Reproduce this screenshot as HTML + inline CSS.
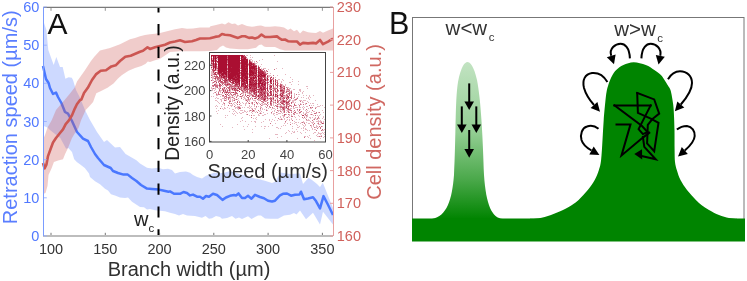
<!DOCTYPE html>
<html><head><meta charset="utf-8"><style>
html,body{margin:0;padding:0;background:#fff;overflow:hidden}
svg{display:block}
text{font-family:"Liberation Sans",Arial,Helvetica,sans-serif}
.t14{font-size:14.5px}
.t12{font-size:13px}
.lab{font-size:20px}
.wl{font-size:20.5px}
.big{font-size:30px}
.sub{font-size:11.5px}
</style></head><body>
<svg width="747" height="281" viewBox="0 0 747 281">
<rect width="747" height="281" fill="#fff"/>
<polygon points="43.0,20.0 46.4,30.0 47.8,45.0 48.3,50.0 53.7,64.9 56.3,56.9 60.0,67.1 62.7,67.1 65.4,78.8 68.6,77.2 71.8,77.7 73.0,80.0 76.0,90.0 80.0,97.8 85.0,110.0 90.0,120.0 97.0,132.0 104.0,142.0 107.0,140.0 115.0,147.5 120.0,147.0 125.6,154.0 136.4,160.3 140.0,163.6 147.0,167.8 152.0,168.5 158.0,167.8 163.0,169.3 168.0,168.8 172.0,170.0 175.0,173.5 180.0,172.1 186.0,171.4 190.0,172.8 193.0,175.0 197.0,177.1 202.0,178.5 206.0,175.7 210.0,174.2 214.0,172.8 220.0,173.3 225.0,172.4 230.0,171.0 235.0,172.4 240.0,174.2 245.0,175.2 250.0,177.1 255.0,178.5 260.0,179.4 265.0,180.8 268.0,181.7 272.0,183.1 275.0,181.7 280.6,172.5 290.0,174.0 300.0,173.6 303.0,184.0 308.5,177.8 312.0,180.0 317.0,184.0 320.0,187.0 322.8,182.8 333.0,208.0 333.0,224.6 323.0,211.8 320.0,224.6 313.0,212.8 306.0,219.3 300.0,210.4 296.5,214.6 294.0,213.0 290.0,214.8 284.0,215.5 278.0,218.7 270.0,218.7 265.0,218.4 261.0,215.5 258.0,215.4 251.5,218.9 248.0,216.2 242.0,218.9 239.0,217.6 235.5,218.7 232.0,215.9 227.0,218.1 222.0,218.7 220.0,217.1 216.0,216.0 212.0,218.2 209.0,218.7 205.5,216.0 202.0,217.7 195.0,216.0 187.0,215.5 183.0,213.9 179.0,215.5 175.0,213.9 170.0,212.8 165.0,211.2 160.0,210.7 155.0,210.2 150.0,209.1 147.0,209.6 144.0,207.2 140.0,207.0 137.0,204.9 132.0,201.8 128.0,197.4 125.0,198.0 120.0,197.4 115.0,195.5 111.0,194.3 108.0,190.6 105.0,188.7 100.0,184.3 95.0,181.2 90.0,176.9 89.0,173.6 84.8,168.0 80.6,164.7 76.8,162.0 74.2,159.3 72.0,151.9 68.3,148.1 66.1,148.7 60.3,138.0 55.0,134.0 50.0,130.0 47.5,127.5 43.0,125.7" fill="#4a78ff" fill-opacity="0.28"/>
<polyline points="43.0,66.0 46.0,79.0 48.6,83.0 50.0,88.0 53.0,94.0 56.0,92.5 58.0,97.0 61.4,103.0 65.0,112.0 68.0,113.7 72.0,121.0 77.0,132.0 83.0,138.6 88.0,141.0 91.0,147.0 95.0,154.0 98.0,158.0 104.0,165.0 110.7,168.0 113.0,171.0 118.0,173.0 123.5,174.6 127.8,174.6 132.0,178.0 136.4,181.0 141.0,185.0 147.0,188.6 152.0,189.0 159.0,189.6 163.0,190.5 168.5,191.8 170.0,191.4 174.0,193.8 180.0,193.8 183.5,192.0 187.0,193.0 190.0,195.4 193.0,194.6 197.0,196.7 200.0,196.8 203.0,198.7 206.0,196.0 209.0,196.7 213.0,193.8 217.0,195.0 222.5,199.9 226.0,197.5 230.0,195.8 234.0,195.0 236.0,195.4 238.5,193.4 242.0,197.9 245.0,197.9 248.0,195.8 251.5,198.7 255.0,194.8 260.0,197.0 264.0,198.3 268.0,200.7 272.0,201.5 275.0,200.7 280.0,195.4 283.0,193.8 287.0,193.5 291.0,195.7 295.0,194.7 299.5,194.5 301.0,191.7 304.0,199.3 308.0,198.5 313.0,197.3 316.0,201.1 320.0,208.4 323.5,196.1 328.0,204.8 333.0,215.0" fill="none" stroke="#4a78ff" stroke-width="2.5" stroke-linejoin="round"/>
<polygon points="43.0,139.5 45.0,135.0 47.5,127.5 49.0,125.0 51.8,120.0 56.0,110.0 64.6,100.0 70.0,93.5 74.5,87.8 77.0,81.4 84.6,70.7 91.0,61.0 94.3,56.8 100.0,50.5 110.0,48.0 120.0,44.3 125.0,41.8 130.0,39.3 135.0,38.1 140.0,36.2 145.0,35.0 150.0,34.3 155.0,33.7 160.0,33.1 165.0,31.8 170.0,30.6 175.0,29.3 178.0,28.7 182.0,28.1 187.0,28.7 193.0,28.6 200.0,27.6 209.5,27.4 210.5,26.2 215.0,25.2 222.0,23.6 225.0,24.4 228.5,22.3 232.0,24.0 235.0,23.6 238.0,25.6 242.0,24.0 247.0,26.0 252.0,26.8 258.0,25.8 261.0,25.4 265.0,26.7 270.0,26.7 275.0,26.3 280.0,26.7 284.0,27.6 288.0,30.1 290.5,28.4 294.0,31.2 297.0,29.7 300.0,33.5 303.0,30.5 308.0,32.3 312.0,32.7 316.0,33.1 320.0,31.0 323.0,32.7 328.0,30.5 333.0,28.4 333.0,50.6 285.0,50.6 280.0,49.2 275.0,47.0 266.0,47.0 264.0,46.5 261.5,44.6 259.0,45.0 256.0,47.8 252.0,48.5 248.0,49.2 240.0,49.2 230.0,48.5 226.0,47.5 223.0,45.5 220.0,47.0 217.0,50.0 210.0,51.0 200.0,51.2 190.0,51.2 180.0,51.2 170.0,52.0 165.0,55.5 159.6,58.9 154.2,60.5 150.0,62.1 147.8,61.6 145.7,63.7 141.4,65.9 135.0,68.0 128.5,70.7 122.0,75.0 118.0,78.5 113.5,83.5 107.5,87.8 104.0,89.5 100.6,91.2 96.3,93.3 94.7,97.6 93.1,101.9 88.9,106.7 85.7,110.0 81.2,120.0 78.5,128.0 75.0,133.0 72.0,138.0 68.0,148.0 65.1,154.0 63.0,159.3 58.1,160.4 53.9,162.0 51.7,167.9 48.5,175.0 47.5,186.0 45.5,193.0 43.0,194.0" fill="#cc5652" fill-opacity="0.3"/>
<polyline points="43.0,163.0 44.6,168.3 46.4,164.7 48.0,156.1 50.7,148.7 53.0,142.5 56.0,138.0 60.0,133.0 63.0,129.4 65.7,124.1 68.9,120.3 72.1,115.0 74.8,108.6 76.9,104.3 80.1,100.0 81.4,99.5 84.0,93.0 87.8,87.8 92.0,80.0 95.9,74.4 100.7,70.7 106.0,70.2 111.4,66.4 115.7,65.3 120.0,61.0 125.3,56.8 130.7,55.7 137.1,53.0 140.0,51.8 143.0,50.8 147.5,47.3 150.0,48.9 155.0,47.3 160.0,46.0 165.0,44.7 170.0,42.5 175.0,41.5 180.0,40.3 185.0,42.0 192.0,41.3 196.0,40.0 200.0,38.5 205.0,38.5 210.0,38.2 215.0,36.9 219.0,36.3 222.0,34.0 225.0,34.7 230.0,35.3 235.0,36.9 238.0,37.9 242.0,36.3 245.0,36.3 249.0,37.9 252.0,37.5 255.0,38.5 258.0,37.4 261.5,34.6 265.0,37.0 270.0,37.0 277.0,36.4 280.0,38.7 282.0,39.8 285.0,39.5 288.0,41.2 292.0,41.5 297.0,41.5 300.0,44.6 303.0,42.9 308.0,43.4 313.0,42.9 316.0,43.4 320.0,39.9 323.0,44.2 328.0,41.7 333.0,38.7" fill="none" stroke="#cc5652" stroke-width="2.6" stroke-linejoin="round"/>
<line x1="158.5" y1="7" x2="158.5" y2="236" stroke="#000" stroke-width="2" stroke-dasharray="11.2 11.6" stroke-dashoffset="5.8"/>
<line x1="43" y1="7.4" x2="333" y2="7.4" stroke="#7a7a7a" stroke-width="1.2"/>
<line x1="43" y1="235.9" x2="333" y2="235.9" stroke="#bdbdbd" stroke-width="2"/>
<line x1="43.5" y1="7" x2="43.5" y2="236" stroke="#7a9cff" stroke-width="1"/>
<line x1="333.5" y1="7" x2="333.5" y2="236" stroke="#e8a0a0" stroke-width="1"/>
<line x1="51.0" y1="8" x2="51.0" y2="10.8" stroke="#888" stroke-width="0.9"/>
<line x1="51.0" y1="235" x2="51.0" y2="232.8" stroke="#666" stroke-width="0.9"/>
<text x="51.0" y="254.2" class="t14" text-anchor="middle" fill="#333">100</text>
<line x1="105.3" y1="8" x2="105.3" y2="10.8" stroke="#888" stroke-width="0.9"/>
<line x1="105.3" y1="235" x2="105.3" y2="232.8" stroke="#666" stroke-width="0.9"/>
<text x="105.3" y="254.2" class="t14" text-anchor="middle" fill="#333">150</text>
<line x1="159.6" y1="8" x2="159.6" y2="10.8" stroke="#888" stroke-width="0.9"/>
<line x1="159.6" y1="235" x2="159.6" y2="232.8" stroke="#666" stroke-width="0.9"/>
<text x="159.6" y="254.2" class="t14" text-anchor="middle" fill="#333">200</text>
<line x1="213.8" y1="8" x2="213.8" y2="10.8" stroke="#888" stroke-width="0.9"/>
<line x1="213.8" y1="235" x2="213.8" y2="232.8" stroke="#666" stroke-width="0.9"/>
<text x="213.8" y="254.2" class="t14" text-anchor="middle" fill="#333">250</text>
<line x1="268.1" y1="8" x2="268.1" y2="10.8" stroke="#888" stroke-width="0.9"/>
<line x1="268.1" y1="235" x2="268.1" y2="232.8" stroke="#666" stroke-width="0.9"/>
<text x="268.1" y="254.2" class="t14" text-anchor="middle" fill="#333">300</text>
<line x1="322.4" y1="8" x2="322.4" y2="10.8" stroke="#888" stroke-width="0.9"/>
<line x1="322.4" y1="235" x2="322.4" y2="232.8" stroke="#666" stroke-width="0.9"/>
<text x="322.4" y="254.2" class="t14" text-anchor="middle" fill="#333">350</text>
<line x1="44" y1="236.0" x2="46.8" y2="236.0" stroke="#9ab0ff" stroke-width="0.9"/>
<text x="39.4" y="241.0" class="t14" text-anchor="end" fill="#5078ff">0</text>
<line x1="44" y1="197.8" x2="46.8" y2="197.8" stroke="#9ab0ff" stroke-width="0.9"/>
<text x="39.4" y="202.8" class="t14" text-anchor="end" fill="#5078ff">10</text>
<line x1="44" y1="159.7" x2="46.8" y2="159.7" stroke="#9ab0ff" stroke-width="0.9"/>
<text x="39.4" y="164.7" class="t14" text-anchor="end" fill="#5078ff">20</text>
<line x1="44" y1="121.5" x2="46.8" y2="121.5" stroke="#9ab0ff" stroke-width="0.9"/>
<text x="39.4" y="126.5" class="t14" text-anchor="end" fill="#5078ff">30</text>
<line x1="44" y1="83.3" x2="46.8" y2="83.3" stroke="#9ab0ff" stroke-width="0.9"/>
<text x="39.4" y="88.3" class="t14" text-anchor="end" fill="#5078ff">40</text>
<line x1="44" y1="45.2" x2="46.8" y2="45.2" stroke="#9ab0ff" stroke-width="0.9"/>
<text x="39.4" y="50.2" class="t14" text-anchor="end" fill="#5078ff">50</text>
<line x1="44" y1="7.0" x2="46.8" y2="7.0" stroke="#9ab0ff" stroke-width="0.9"/>
<text x="39.4" y="12.0" class="t14" text-anchor="end" fill="#5078ff">60</text>
<line x1="333" y1="236.0" x2="330" y2="236.0" stroke="#e8a0a0" stroke-width="1"/>
<text x="336.8" y="241.0" class="t14" fill="#d0605b">160</text>
<line x1="333" y1="203.3" x2="330" y2="203.3" stroke="#e8a0a0" stroke-width="1"/>
<text x="336.8" y="208.3" class="t14" fill="#d0605b">170</text>
<line x1="333" y1="170.6" x2="330" y2="170.6" stroke="#e8a0a0" stroke-width="1"/>
<text x="336.8" y="175.6" class="t14" fill="#d0605b">180</text>
<line x1="333" y1="137.9" x2="330" y2="137.9" stroke="#e8a0a0" stroke-width="1"/>
<text x="336.8" y="142.9" class="t14" fill="#d0605b">190</text>
<line x1="333" y1="105.1" x2="330" y2="105.1" stroke="#e8a0a0" stroke-width="1"/>
<text x="336.8" y="110.1" class="t14" fill="#d0605b">200</text>
<line x1="333" y1="72.4" x2="330" y2="72.4" stroke="#e8a0a0" stroke-width="1"/>
<text x="336.8" y="77.4" class="t14" fill="#d0605b">210</text>
<line x1="333" y1="39.7" x2="330" y2="39.7" stroke="#e8a0a0" stroke-width="1"/>
<text x="336.8" y="44.7" class="t14" fill="#d0605b">220</text>
<line x1="333" y1="7.0" x2="330" y2="7.0" stroke="#e8a0a0" stroke-width="1"/>
<text x="336.8" y="12.0" class="t14" fill="#d0605b">230</text>
<rect x="209.5" y="52.5" width="116" height="89.5" fill="#fff" stroke="#444" stroke-width="1"/>
<path d="M211 64h1v1h-1zM211 66h1v1h-1zM211 68h1v2h-1zM211 71h1v4h-1zM211 87h1v2h-1zM211 96h1v1h-1zM212 56h1v1h-1zM212 58h1v2h-1zM212 62h1v1h-1zM212 66h1v2h-1zM212 71h1v10h-1zM212 82h1v2h-1zM212 86h1v1h-1zM212 88h1v3h-1zM213 73h1v1h-1zM213 76h1v3h-1zM213 80h1v1h-1zM213 93h1v1h-1zM213 96h1v1h-1zM214 68h1v2h-1zM214 71h1v2h-1zM214 75h1v1h-1zM214 82h1v1h-1zM214 88h1v1h-1zM214 90h1v1h-1zM214 92h1v1h-1zM215 80h1v1h-1zM215 83h1v1h-1zM215 87h1v3h-1zM215 98h1v1h-1zM215 100h1v1h-1zM215 106h1v1h-1zM216 59h1v1h-1zM216 62h1v1h-1zM216 69h1v2h-1zM216 78h1v1h-1zM216 80h1v2h-1zM216 83h1v2h-1zM216 87h1v1h-1zM216 91h1v1h-1zM216 93h1v1h-1zM216 95h1v1h-1zM216 97h1v1h-1zM216 100h1v1h-1zM216 105h1v1h-1zM216 108h1v1h-1zM216 111h1v1h-1zM217 58h1v2h-1zM217 64h1v1h-1zM217 66h1v2h-1zM217 69h1v1h-1zM217 71h1v1h-1zM217 74h1v1h-1zM217 80h1v1h-1zM217 84h1v1h-1zM217 94h1v2h-1zM217 98h1v1h-1zM217 101h1v1h-1zM217 106h1v1h-1zM217 113h1v1h-1zM218 80h1v1h-1zM218 85h1v1h-1zM218 88h1v1h-1zM218 91h1v1h-1zM218 98h1v1h-1zM218 102h1v1h-1zM218 110h1v1h-1zM219 79h1v1h-1zM219 87h1v2h-1zM219 91h1v1h-1zM219 103h1v1h-1zM220 87h1v1h-1zM220 90h1v3h-1zM220 94h1v1h-1zM220 96h1v1h-1zM220 99h1v1h-1zM220 124h1v1h-1zM221 79h1v1h-1zM221 83h1v1h-1zM221 90h1v1h-1zM221 94h1v1h-1zM221 99h1v3h-1zM221 106h1v1h-1zM222 78h1v1h-1zM222 80h1v1h-1zM222 86h1v1h-1zM222 90h1v1h-1zM222 93h1v1h-1zM222 96h1v1h-1zM222 98h1v1h-1zM222 104h1v1h-1zM222 108h1v1h-1zM222 126h1v1h-1zM223 85h1v1h-1zM223 87h1v2h-1zM223 96h1v1h-1zM223 98h1v1h-1zM223 102h1v2h-1zM223 109h1v1h-1zM224 83h1v1h-1zM224 89h1v3h-1zM224 93h1v1h-1zM224 96h1v1h-1zM224 98h1v2h-1zM224 104h1v2h-1zM224 107h1v2h-1zM225 87h1v1h-1zM225 89h1v1h-1zM225 108h1v1h-1zM225 115h1v1h-1zM225 117h1v1h-1zM226 83h1v1h-1zM226 89h1v1h-1zM226 91h1v1h-1zM226 93h1v2h-1zM226 98h1v3h-1zM227 63h1v1h-1zM227 66h1v2h-1zM227 70h1v1h-1zM227 89h1v1h-1zM227 97h1v1h-1zM227 107h1v1h-1zM227 115h1v1h-1zM228 81h1v2h-1zM228 85h1v1h-1zM228 90h1v1h-1zM228 102h1v1h-1zM229 85h1v1h-1zM229 91h1v1h-1zM229 94h1v3h-1zM229 98h1v1h-1zM229 100h1v1h-1zM229 102h1v1h-1zM229 108h1v1h-1zM229 111h1v1h-1zM230 87h1v6h-1zM230 94h1v1h-1zM230 96h1v5h-1zM230 103h1v1h-1zM230 105h1v1h-1zM231 83h1v2h-1zM231 89h1v1h-1zM231 95h1v1h-1zM231 97h1v1h-1zM231 105h1v2h-1zM232 85h1v1h-1zM232 87h1v1h-1zM232 90h1v1h-1zM232 96h1v1h-1zM232 99h1v3h-1zM232 104h1v2h-1zM232 109h1v1h-1zM232 113h1v1h-1zM232 127h1v1h-1zM233 85h1v1h-1zM233 87h1v1h-1zM233 89h1v2h-1zM233 95h1v1h-1zM233 97h1v2h-1zM233 100h1v1h-1zM233 103h1v1h-1zM233 109h1v1h-1zM233 111h1v1h-1zM233 114h1v1h-1zM234 82h1v1h-1zM234 84h1v1h-1zM234 92h1v2h-1zM234 96h1v1h-1zM234 99h1v1h-1zM234 102h1v1h-1zM234 104h1v1h-1zM234 110h1v1h-1zM234 113h1v1h-1zM235 87h1v1h-1zM235 95h1v1h-1zM235 99h1v1h-1zM235 102h1v1h-1zM235 105h1v1h-1zM235 107h1v2h-1zM235 111h1v1h-1zM235 115h1v1h-1zM236 87h1v2h-1zM236 96h1v1h-1zM236 103h1v1h-1zM236 107h1v1h-1zM236 112h1v1h-1zM237 87h1v1h-1zM237 89h1v1h-1zM237 91h1v1h-1zM237 94h1v1h-1zM237 96h1v1h-1zM237 99h1v1h-1zM237 106h1v3h-1zM237 113h1v1h-1zM237 124h1v1h-1zM238 85h1v1h-1zM238 95h1v1h-1zM238 98h1v1h-1zM238 100h1v1h-1zM238 106h1v1h-1zM238 108h1v2h-1zM239 87h1v1h-1zM239 96h1v1h-1zM239 101h1v1h-1zM239 106h1v1h-1zM239 112h1v1h-1zM240 56h1v1h-1zM240 58h1v1h-1zM240 64h1v4h-1zM240 74h1v1h-1zM240 80h1v1h-1zM240 86h1v1h-1zM240 88h1v1h-1zM240 103h1v1h-1zM240 105h1v1h-1zM240 107h1v1h-1zM240 110h1v1h-1zM240 113h1v1h-1zM240 121h1v1h-1zM241 97h1v1h-1zM241 105h1v1h-1zM241 110h1v1h-1zM241 113h1v1h-1zM241 118h1v1h-1zM242 87h1v3h-1zM242 92h1v2h-1zM242 96h1v1h-1zM242 102h1v1h-1zM242 107h1v1h-1zM242 110h1v1h-1zM242 112h1v1h-1zM242 117h1v1h-1zM242 120h1v1h-1zM243 90h1v1h-1zM243 93h1v3h-1zM243 97h1v1h-1zM243 99h1v1h-1zM243 103h1v1h-1zM243 112h1v1h-1zM243 126h1v1h-1zM244 91h1v2h-1zM244 96h1v3h-1zM244 107h1v1h-1zM244 110h1v2h-1zM244 129h1v1h-1zM245 91h1v1h-1zM245 93h1v1h-1zM245 98h1v3h-1zM245 103h1v3h-1zM245 111h1v1h-1zM245 121h1v1h-1zM246 55h1v1h-1zM246 58h1v1h-1zM246 90h1v1h-1zM246 92h1v1h-1zM246 99h1v1h-1zM246 102h1v2h-1zM246 112h1v1h-1zM246 114h1v1h-1zM247 55h1v1h-1zM247 58h1v1h-1zM247 93h1v1h-1zM247 99h1v2h-1zM247 107h1v1h-1zM247 111h1v1h-1zM247 126h1v1h-1zM248 63h1v1h-1zM248 65h1v1h-1zM248 73h1v2h-1zM248 77h1v1h-1zM248 79h1v1h-1zM248 84h1v3h-1zM248 88h1v1h-1zM248 92h1v2h-1zM248 100h1v1h-1zM248 102h1v2h-1zM248 107h1v1h-1zM248 124h1v1h-1zM249 59h1v1h-1zM249 78h1v1h-1zM249 94h1v2h-1zM249 99h1v3h-1zM249 105h1v2h-1zM249 108h1v1h-1zM249 110h1v2h-1zM249 115h1v1h-1zM250 55h1v1h-1zM250 57h1v1h-1zM250 59h1v2h-1zM250 92h1v1h-1zM250 94h1v2h-1zM250 99h1v1h-1zM250 107h1v1h-1zM251 59h1v1h-1zM251 61h1v1h-1zM251 93h1v1h-1zM251 95h1v1h-1zM251 97h1v1h-1zM251 102h1v2h-1zM251 106h1v1h-1zM251 108h1v1h-1zM251 110h1v1h-1zM251 112h1v1h-1zM251 121h1v1h-1zM252 57h1v1h-1zM252 60h1v3h-1zM252 92h1v1h-1zM252 94h1v1h-1zM252 99h1v1h-1zM252 104h1v1h-1zM252 108h1v1h-1zM252 110h1v1h-1zM252 113h1v1h-1zM252 129h1v1h-1zM252 132h1v1h-1zM253 94h1v1h-1zM253 100h1v1h-1zM253 111h1v1h-1zM253 115h1v1h-1zM253 118h1v1h-1zM254 61h1v2h-1zM254 79h1v1h-1zM254 100h1v1h-1zM254 102h1v1h-1zM254 105h1v2h-1zM254 108h1v1h-1zM254 110h1v2h-1zM254 115h1v1h-1zM254 121h1v1h-1zM255 63h1v2h-1zM255 91h1v1h-1zM255 97h1v1h-1zM255 100h1v2h-1zM255 108h1v2h-1zM255 112h1v1h-1zM255 118h1v1h-1zM255 121h1v2h-1zM255 126h1v1h-1zM256 63h1v1h-1zM256 96h1v1h-1zM256 98h1v1h-1zM256 103h1v1h-1zM256 107h1v1h-1zM256 111h1v1h-1zM256 117h1v1h-1zM256 119h1v1h-1zM257 62h1v1h-1zM257 68h1v1h-1zM257 70h1v1h-1zM257 72h1v1h-1zM257 74h1v2h-1zM257 79h1v3h-1zM257 84h1v4h-1zM257 91h1v2h-1zM257 95h1v1h-1zM257 104h1v1h-1zM258 65h1v1h-1zM258 88h1v1h-1zM258 94h1v1h-1zM258 97h1v1h-1zM258 99h1v2h-1zM258 102h1v1h-1zM258 106h1v1h-1zM258 114h1v2h-1zM259 60h1v1h-1zM259 98h1v3h-1zM259 103h1v1h-1zM259 111h1v1h-1zM259 113h1v1h-1zM259 115h1v1h-1zM260 66h1v1h-1zM260 84h1v1h-1zM260 97h1v1h-1zM260 99h1v1h-1zM260 106h1v2h-1zM260 109h1v2h-1zM260 112h1v1h-1zM261 64h1v1h-1zM261 68h1v2h-1zM261 96h1v1h-1zM261 103h1v1h-1zM261 107h1v1h-1zM261 111h1v1h-1zM261 113h1v1h-1zM261 122h1v1h-1zM261 126h1v1h-1zM262 59h1v1h-1zM262 69h1v1h-1zM262 102h1v4h-1zM262 108h1v2h-1zM262 115h1v1h-1zM263 68h1v1h-1zM263 96h1v1h-1zM263 101h1v1h-1zM263 104h1v1h-1zM263 112h1v1h-1zM263 115h1v1h-1zM263 121h1v1h-1zM264 68h1v1h-1zM264 90h1v1h-1zM264 101h1v1h-1zM264 103h1v2h-1zM264 109h1v1h-1zM264 114h1v1h-1zM264 126h1v1h-1zM264 128h1v1h-1zM265 68h1v1h-1zM265 71h1v1h-1zM265 100h1v1h-1zM265 103h1v2h-1zM265 106h1v1h-1zM265 114h1v1h-1zM265 119h1v1h-1zM265 126h1v1h-1zM266 71h1v1h-1zM266 73h1v1h-1zM266 77h1v3h-1zM266 82h1v2h-1zM266 91h1v3h-1zM266 97h1v2h-1zM266 100h1v2h-1zM266 109h1v1h-1zM267 91h1v1h-1zM267 96h1v1h-1zM267 99h1v1h-1zM267 106h1v1h-1zM267 110h1v1h-1zM267 113h1v1h-1zM268 69h1v1h-1zM268 75h1v3h-1zM268 80h1v1h-1zM268 84h1v1h-1zM268 90h1v1h-1zM268 96h1v1h-1zM268 98h1v2h-1zM268 102h1v1h-1zM268 104h1v1h-1zM268 108h1v1h-1zM268 126h1v1h-1zM269 75h1v2h-1zM269 81h1v1h-1zM269 84h1v2h-1zM269 87h1v1h-1zM269 89h1v1h-1zM269 96h1v1h-1zM269 107h1v1h-1zM269 119h1v2h-1zM269 138h1v1h-1zM270 73h1v1h-1zM270 75h1v1h-1zM270 84h1v1h-1zM270 100h1v1h-1zM270 105h1v1h-1zM271 76h1v1h-1zM271 88h1v1h-1zM271 97h1v1h-1zM271 102h1v1h-1zM271 109h1v1h-1zM271 113h1v1h-1zM271 121h1v1h-1zM272 78h1v1h-1zM272 84h1v2h-1zM272 88h1v1h-1zM272 90h1v1h-1zM272 95h1v5h-1zM272 101h1v1h-1zM272 108h1v1h-1zM272 111h1v1h-1zM272 119h1v1h-1zM272 125h1v1h-1zM273 79h1v1h-1zM273 89h1v1h-1zM273 96h1v1h-1zM273 100h1v2h-1zM273 103h1v3h-1zM273 108h1v1h-1zM273 113h1v2h-1zM274 55h1v1h-1zM274 87h1v1h-1zM274 90h1v1h-1zM274 96h1v1h-1zM274 100h1v1h-1zM274 102h1v1h-1zM274 106h1v1h-1zM274 108h1v1h-1zM274 110h1v2h-1zM274 113h1v1h-1zM274 115h1v1h-1zM274 120h1v1h-1zM275 77h1v1h-1zM275 85h1v3h-1zM275 92h1v2h-1zM275 97h1v1h-1zM275 99h1v1h-1zM275 101h1v1h-1zM275 103h1v1h-1zM275 109h1v1h-1zM275 117h1v1h-1zM275 123h1v1h-1zM275 134h1v1h-1zM276 68h1v1h-1zM276 80h1v1h-1zM276 82h1v1h-1zM276 91h1v1h-1zM276 95h1v1h-1zM276 98h1v1h-1zM276 103h1v1h-1zM276 105h1v1h-1zM276 114h1v1h-1zM276 127h1v1h-1zM276 134h1v1h-1zM277 61h1v1h-1zM277 75h1v1h-1zM277 88h1v1h-1zM277 92h1v1h-1zM277 94h1v1h-1zM277 98h1v1h-1zM277 105h1v1h-1zM277 107h1v1h-1zM277 112h1v1h-1zM277 114h1v1h-1zM277 120h1v1h-1zM277 127h1v1h-1zM277 134h1v1h-1zM277 137h1v1h-1zM278 79h1v1h-1zM278 83h1v1h-1zM278 85h1v1h-1zM278 91h1v1h-1zM278 95h1v1h-1zM278 97h1v1h-1zM278 100h1v1h-1zM278 102h1v3h-1zM278 106h1v1h-1zM278 110h1v2h-1zM278 113h1v1h-1zM278 128h1v1h-1zM279 79h1v1h-1zM279 85h1v2h-1zM279 88h1v1h-1zM279 94h1v2h-1zM279 103h1v2h-1zM279 106h1v2h-1zM279 110h1v1h-1zM279 113h1v1h-1zM279 119h1v1h-1zM280 83h1v1h-1zM280 92h1v1h-1zM280 96h1v1h-1zM280 100h1v2h-1zM280 105h1v1h-1zM280 108h1v3h-1zM280 113h1v1h-1zM280 116h1v2h-1zM280 119h1v1h-1zM280 128h1v1h-1zM281 81h1v2h-1zM281 92h1v1h-1zM281 94h1v1h-1zM281 97h1v4h-1zM281 105h1v1h-1zM281 109h1v1h-1zM281 111h1v2h-1zM281 118h1v1h-1zM281 126h1v1h-1zM281 136h1v1h-1zM282 68h1v1h-1zM282 79h1v1h-1zM282 84h1v3h-1zM282 88h1v1h-1zM282 97h1v1h-1zM282 99h1v1h-1zM282 104h1v1h-1zM282 106h1v1h-1zM282 109h1v2h-1zM282 113h1v1h-1zM282 115h1v1h-1zM282 119h1v1h-1zM283 80h1v1h-1zM283 85h1v1h-1zM283 87h1v1h-1zM283 89h1v1h-1zM283 94h1v1h-1zM283 96h1v1h-1zM283 105h1v2h-1zM283 110h1v3h-1zM283 115h1v3h-1zM283 125h1v1h-1zM284 92h1v2h-1zM284 96h1v1h-1zM284 105h1v1h-1zM284 116h1v1h-1zM284 118h1v2h-1zM284 123h1v1h-1zM285 74h1v1h-1zM285 84h1v2h-1zM285 92h1v1h-1zM285 95h1v3h-1zM285 100h1v1h-1zM285 102h1v2h-1zM285 106h1v3h-1zM285 122h1v1h-1zM285 125h1v1h-1zM285 133h1v1h-1zM286 89h1v2h-1zM286 96h1v1h-1zM286 99h1v1h-1zM286 108h1v1h-1zM286 110h1v1h-1zM286 112h1v1h-1zM286 114h1v1h-1zM286 117h1v1h-1zM286 120h1v1h-1zM286 132h1v1h-1zM287 87h1v1h-1zM287 90h1v1h-1zM287 93h1v2h-1zM287 98h1v1h-1zM287 101h1v1h-1zM287 105h1v2h-1zM287 109h1v3h-1zM287 119h1v1h-1zM287 123h1v1h-1zM288 87h1v1h-1zM288 90h1v1h-1zM288 94h1v1h-1zM288 100h1v1h-1zM288 103h1v1h-1zM288 110h1v1h-1zM288 116h1v1h-1zM288 130h1v1h-1zM289 82h1v1h-1zM289 88h1v2h-1zM289 91h1v1h-1zM289 97h1v1h-1zM289 99h1v1h-1zM289 104h1v1h-1zM289 106h1v1h-1zM289 110h1v1h-1zM289 114h1v2h-1zM289 117h1v1h-1zM289 119h1v2h-1zM289 131h1v1h-1zM290 77h1v1h-1zM290 82h1v1h-1zM290 88h1v1h-1zM290 91h1v3h-1zM290 99h1v2h-1zM290 108h1v2h-1zM290 122h1v1h-1zM291 84h1v1h-1zM291 90h1v1h-1zM291 94h1v1h-1zM291 105h1v1h-1zM291 108h1v1h-1zM291 111h1v1h-1zM291 114h1v2h-1zM291 118h1v2h-1zM291 133h1v1h-1zM292 79h1v1h-1zM292 81h1v1h-1zM292 100h1v3h-1zM292 123h1v1h-1zM292 126h1v1h-1zM292 128h1v1h-1zM292 131h1v1h-1zM293 89h1v1h-1zM293 98h1v1h-1zM293 100h1v3h-1zM293 107h1v2h-1zM293 111h1v1h-1zM293 114h1v1h-1zM293 132h1v1h-1zM294 89h1v1h-1zM294 93h1v4h-1zM294 99h1v2h-1zM294 103h1v1h-1zM294 108h1v1h-1zM294 113h1v1h-1zM294 116h1v1h-1zM294 121h1v1h-1zM294 123h1v1h-1zM294 131h1v2h-1zM295 100h1v1h-1zM295 102h1v1h-1zM295 107h1v1h-1zM295 111h1v1h-1zM295 117h1v1h-1zM295 122h1v1h-1zM296 98h1v1h-1zM296 105h1v1h-1zM296 107h1v1h-1zM296 113h1v1h-1zM296 119h1v1h-1zM296 122h1v1h-1zM296 124h1v1h-1zM296 129h1v1h-1zM297 97h1v1h-1zM297 107h1v1h-1zM297 110h1v1h-1zM297 113h1v1h-1zM297 125h1v1h-1zM297 127h1v1h-1zM297 131h1v1h-1zM297 138h1v1h-1zM298 81h1v1h-1zM298 84h1v1h-1zM298 92h1v1h-1zM298 94h1v1h-1zM298 96h1v1h-1zM298 104h1v1h-1zM298 111h1v1h-1zM298 115h1v1h-1zM298 122h1v1h-1zM298 127h1v1h-1zM299 89h1v2h-1zM299 94h1v1h-1zM299 100h1v1h-1zM299 106h1v2h-1zM299 113h1v1h-1zM299 116h1v1h-1zM299 119h1v1h-1zM299 126h1v1h-1zM300 89h1v3h-1zM300 100h1v1h-1zM300 103h1v1h-1zM300 107h1v1h-1zM300 109h1v1h-1zM300 111h1v1h-1zM300 123h1v1h-1zM300 132h1v1h-1zM301 97h1v1h-1zM301 100h1v1h-1zM301 104h1v1h-1zM301 114h1v1h-1zM301 122h1v1h-1zM301 128h1v1h-1zM301 133h1v1h-1zM302 92h1v2h-1zM302 101h1v2h-1zM302 107h1v1h-1zM302 124h1v1h-1zM303 91h1v1h-1zM303 95h1v1h-1zM303 97h1v1h-1zM303 100h1v1h-1zM303 102h1v1h-1zM303 106h1v1h-1zM303 108h1v2h-1zM303 112h1v2h-1zM303 118h1v1h-1zM303 121h1v2h-1zM303 125h1v1h-1zM303 127h1v2h-1zM303 130h1v1h-1zM304 100h1v1h-1zM304 107h1v1h-1zM304 114h1v1h-1zM304 116h1v1h-1zM304 122h1v1h-1zM304 126h1v1h-1zM304 136h1v1h-1zM305 100h1v1h-1zM305 103h1v2h-1zM305 110h1v1h-1zM305 113h1v1h-1zM305 115h1v1h-1zM305 118h1v1h-1zM305 124h1v2h-1zM305 128h1v2h-1zM305 132h1v1h-1zM305 136h1v1h-1zM306 86h1v1h-1zM306 95h1v1h-1zM306 98h1v1h-1zM306 106h1v1h-1zM306 111h1v3h-1zM306 116h1v2h-1zM306 120h1v1h-1zM306 122h1v1h-1zM306 129h1v1h-1zM307 86h1v1h-1zM307 88h1v1h-1zM307 101h1v1h-1zM307 106h1v1h-1zM307 110h1v1h-1zM307 112h1v1h-1zM307 114h1v3h-1zM307 120h1v1h-1zM307 130h1v1h-1zM307 136h1v1h-1zM308 97h1v2h-1zM308 102h1v1h-1zM308 108h1v1h-1zM308 112h1v1h-1zM308 119h1v2h-1zM308 123h1v1h-1zM308 137h1v1h-1zM309 95h1v2h-1zM309 99h1v1h-1zM309 111h1v1h-1zM309 117h1v1h-1zM309 120h1v1h-1zM309 123h1v1h-1zM309 130h1v1h-1zM309 135h1v1h-1zM310 97h1v1h-1zM310 103h1v1h-1zM310 108h1v1h-1zM310 114h1v1h-1zM310 117h1v2h-1zM310 121h1v1h-1zM310 138h1v1h-1zM311 105h1v1h-1zM311 107h1v2h-1zM311 112h1v1h-1zM311 122h1v1h-1zM311 125h1v3h-1zM312 103h1v1h-1zM312 114h1v1h-1zM312 117h1v1h-1zM312 122h1v2h-1zM312 128h1v2h-1zM313 95h1v1h-1zM313 103h1v1h-1zM313 105h1v1h-1zM313 111h1v1h-1zM313 115h1v1h-1zM313 119h1v1h-1zM313 121h1v2h-1zM313 125h1v2h-1zM313 133h1v1h-1zM314 111h1v1h-1zM314 118h1v1h-1zM314 129h1v1h-1zM314 132h1v1h-1zM314 140h1v1h-1zM315 100h1v1h-1zM315 107h1v1h-1zM315 117h1v2h-1zM315 127h1v1h-1zM315 129h1v1h-1zM315 132h1v1h-1zM316 107h1v1h-1zM316 113h1v1h-1zM316 119h1v1h-1zM316 121h1v1h-1zM316 125h1v3h-1zM316 135h1v1h-1zM317 104h1v1h-1zM317 106h1v1h-1zM317 115h1v1h-1zM317 119h1v1h-1zM317 121h1v1h-1zM317 123h1v1h-1zM317 126h1v1h-1zM317 134h1v1h-1zM317 136h1v1h-1zM318 106h1v1h-1zM318 112h1v1h-1zM318 116h1v1h-1zM318 118h1v1h-1zM318 120h1v3h-1zM318 124h1v1h-1zM318 127h1v1h-1zM318 132h1v2h-1zM318 136h1v1h-1zM319 106h1v1h-1zM319 115h1v1h-1zM319 118h1v1h-1zM319 121h1v1h-1zM319 124h1v1h-1zM319 133h1v1h-1zM320 105h1v1h-1zM320 114h1v1h-1zM320 120h1v3h-1zM320 124h1v1h-1zM320 133h1v2h-1zM320 136h1v1h-1zM320 138h1v1h-1zM321 121h1v1h-1zM321 123h1v1h-1zM321 133h1v1h-1zM321 135h1v1h-1zM322 105h1v1h-1zM322 110h1v1h-1zM322 118h1v1h-1zM322 126h1v1h-1zM322 130h1v1h-1zM322 132h1v1h-1zM323 112h1v1h-1zM323 116h1v2h-1zM323 121h1v2h-1zM323 130h1v1h-1zM323 133h1v1h-1zM323 137h1v1h-1zM324 107h1v1h-1zM324 119h1v1h-1zM324 129h1v1h-1zM324 132h1v1h-1zM324 134h1v1h-1zM324 136h1v1h-1zM325 129h1v1h-1z" fill="#aa0f32" fill-opacity="0.3"/>
<path d="M211 77h1v1h-1zM212 64h1v2h-1zM212 70h1v1h-1zM212 85h1v1h-1zM213 74h1v1h-1zM213 85h1v2h-1zM213 88h1v1h-1zM214 59h1v3h-1zM214 63h1v1h-1zM214 78h1v1h-1zM214 85h1v1h-1zM215 76h1v2h-1zM215 79h1v1h-1zM215 81h1v1h-1zM215 84h1v3h-1zM215 92h1v1h-1zM216 56h1v2h-1zM216 68h1v1h-1zM216 72h1v1h-1zM216 75h1v1h-1zM216 77h1v1h-1zM216 85h1v2h-1zM216 94h1v1h-1zM217 56h1v1h-1zM217 62h1v1h-1zM217 70h1v1h-1zM217 72h1v1h-1zM217 77h1v1h-1zM217 79h1v1h-1zM217 85h1v2h-1zM218 74h1v1h-1zM218 78h1v2h-1zM218 81h1v2h-1zM218 92h1v3h-1zM219 77h1v2h-1zM219 81h1v1h-1zM219 86h1v1h-1zM219 89h1v1h-1zM219 94h1v1h-1zM220 74h1v1h-1zM220 76h1v3h-1zM220 81h1v2h-1zM220 85h1v2h-1zM220 108h1v1h-1zM221 78h1v1h-1zM221 85h1v1h-1zM222 76h1v1h-1zM222 81h1v1h-1zM222 83h1v1h-1zM222 95h1v1h-1zM223 78h1v1h-1zM223 82h1v2h-1zM223 89h1v1h-1zM224 79h1v1h-1zM224 84h1v1h-1zM224 92h1v1h-1zM224 97h1v1h-1zM224 100h1v1h-1zM224 103h1v1h-1zM225 83h1v1h-1zM225 85h1v1h-1zM225 91h1v2h-1zM225 98h1v1h-1zM225 100h1v1h-1zM226 81h1v2h-1zM226 84h1v3h-1zM226 88h1v1h-1zM226 95h1v3h-1zM227 56h1v1h-1zM227 58h1v1h-1zM227 61h1v2h-1zM227 65h1v1h-1zM227 72h1v6h-1zM227 79h1v1h-1zM227 81h1v3h-1zM227 85h1v1h-1zM227 87h1v1h-1zM227 92h1v1h-1zM228 80h1v1h-1zM228 83h1v1h-1zM228 87h1v2h-1zM228 92h1v2h-1zM228 97h1v3h-1zM228 105h1v1h-1zM229 83h1v1h-1zM229 86h1v1h-1zM229 88h1v1h-1zM229 97h1v1h-1zM229 101h1v1h-1zM229 103h1v1h-1zM230 82h1v1h-1zM230 85h1v2h-1zM230 93h1v1h-1zM230 101h1v1h-1zM231 79h1v1h-1zM231 85h1v4h-1zM231 92h1v1h-1zM231 94h1v1h-1zM231 103h1v1h-1zM232 84h1v1h-1zM232 92h1v1h-1zM232 95h1v1h-1zM232 97h1v1h-1zM233 86h1v1h-1zM233 94h1v1h-1zM234 86h1v2h-1zM234 94h1v1h-1zM234 98h1v1h-1zM234 106h1v1h-1zM235 83h1v1h-1zM235 89h1v1h-1zM235 91h1v1h-1zM235 93h1v2h-1zM236 86h1v1h-1zM236 89h1v2h-1zM236 92h1v1h-1zM236 97h1v1h-1zM237 93h1v1h-1zM237 95h1v1h-1zM237 101h1v1h-1zM237 104h1v1h-1zM238 90h1v1h-1zM238 107h1v1h-1zM239 86h1v1h-1zM239 102h1v1h-1zM239 104h1v1h-1zM239 107h1v1h-1zM240 62h1v1h-1zM240 68h1v1h-1zM240 70h1v1h-1zM240 73h1v1h-1zM240 75h1v1h-1zM240 77h1v2h-1zM240 89h1v1h-1zM240 108h1v1h-1zM241 87h1v1h-1zM241 89h1v1h-1zM241 93h1v1h-1zM241 96h1v1h-1zM241 98h1v1h-1zM242 82h1v1h-1zM242 91h1v1h-1zM242 95h1v1h-1zM243 55h1v1h-1zM243 87h1v3h-1zM243 91h1v2h-1zM244 90h1v1h-1zM245 89h1v1h-1zM245 92h1v1h-1zM245 94h1v2h-1zM246 57h1v1h-1zM246 88h1v1h-1zM246 91h1v1h-1zM246 96h1v1h-1zM247 92h1v1h-1zM247 97h1v1h-1zM247 101h1v1h-1zM247 114h1v1h-1zM248 64h1v1h-1zM248 89h1v1h-1zM248 95h1v1h-1zM248 97h1v3h-1zM249 89h1v3h-1zM249 93h1v1h-1zM249 96h1v1h-1zM250 89h1v1h-1zM250 91h1v1h-1zM250 93h1v1h-1zM250 98h1v1h-1zM250 110h1v1h-1zM251 92h1v1h-1zM251 94h1v1h-1zM251 115h1v1h-1zM251 117h1v1h-1zM252 65h1v1h-1zM252 76h1v1h-1zM252 91h1v1h-1zM252 96h1v1h-1zM252 98h1v1h-1zM252 102h1v2h-1zM252 109h1v1h-1zM252 111h1v1h-1zM253 92h1v2h-1zM253 95h1v1h-1zM254 63h1v1h-1zM254 76h1v1h-1zM254 82h1v1h-1zM254 104h1v1h-1zM255 78h1v1h-1zM255 93h1v3h-1zM256 61h1v1h-1zM256 76h1v1h-1zM256 93h1v1h-1zM256 106h1v1h-1zM257 83h1v1h-1zM257 96h1v1h-1zM257 99h1v1h-1zM257 103h1v1h-1zM257 112h1v1h-1zM258 90h1v1h-1zM258 110h1v1h-1zM259 87h1v2h-1zM259 91h1v2h-1zM259 94h1v3h-1zM260 85h1v1h-1zM260 93h1v1h-1zM260 98h1v1h-1zM260 100h1v1h-1zM260 104h1v1h-1zM260 108h1v1h-1zM260 113h1v1h-1zM261 82h1v1h-1zM261 98h1v2h-1zM261 101h1v1h-1zM261 105h1v1h-1zM262 70h1v1h-1zM262 77h1v1h-1zM262 87h1v1h-1zM262 92h1v2h-1zM262 95h1v1h-1zM262 98h1v2h-1zM262 101h1v1h-1zM263 69h1v1h-1zM263 91h1v1h-1zM263 94h1v2h-1zM263 97h1v1h-1zM263 100h1v1h-1zM264 70h1v3h-1zM264 80h1v1h-1zM264 86h1v1h-1zM265 72h1v2h-1zM265 78h1v1h-1zM265 81h1v1h-1zM265 93h1v2h-1zM265 97h1v1h-1zM265 101h1v1h-1zM266 70h1v1h-1zM266 74h1v1h-1zM266 80h1v1h-1zM266 88h1v1h-1zM266 96h1v1h-1zM266 104h1v1h-1zM266 107h1v1h-1zM266 110h1v1h-1zM267 75h1v1h-1zM267 77h1v1h-1zM267 81h1v1h-1zM267 100h1v1h-1zM267 102h1v2h-1zM268 79h1v1h-1zM268 91h1v1h-1zM268 93h1v3h-1zM269 86h1v1h-1zM269 88h1v1h-1zM269 92h1v1h-1zM269 95h1v1h-1zM269 98h1v1h-1zM269 106h1v1h-1zM270 77h1v1h-1zM270 83h1v1h-1zM270 90h1v1h-1zM270 94h1v1h-1zM270 97h1v1h-1zM270 104h1v1h-1zM270 107h1v1h-1zM270 123h1v1h-1zM271 82h1v1h-1zM271 85h1v1h-1zM271 92h1v1h-1zM271 99h1v1h-1zM271 103h1v3h-1zM271 112h1v1h-1zM272 79h1v1h-1zM272 107h1v1h-1zM273 75h1v1h-1zM273 77h1v1h-1zM273 82h1v1h-1zM273 87h1v1h-1zM273 92h1v2h-1zM273 97h1v1h-1zM273 99h1v1h-1zM273 102h1v1h-1zM274 69h1v1h-1zM274 88h1v2h-1zM275 82h1v1h-1zM275 88h1v3h-1zM275 102h1v1h-1zM275 105h1v1h-1zM276 92h1v1h-1zM276 96h1v1h-1zM276 106h1v1h-1zM276 112h1v1h-1zM277 80h1v2h-1zM277 93h1v1h-1zM277 99h1v1h-1zM277 101h1v1h-1zM277 108h1v1h-1zM277 110h1v1h-1zM278 90h1v1h-1zM278 101h1v1h-1zM278 118h1v1h-1zM279 100h1v1h-1zM280 89h1v1h-1zM280 93h1v1h-1zM280 97h1v1h-1zM280 104h1v1h-1zM280 106h1v2h-1zM280 111h1v1h-1zM281 84h1v1h-1zM281 86h1v1h-1zM281 88h1v2h-1zM281 91h1v1h-1zM281 101h1v2h-1zM281 106h1v2h-1zM281 119h1v1h-1zM282 87h1v1h-1zM282 89h1v1h-1zM282 91h1v1h-1zM282 98h1v1h-1zM282 100h1v3h-1zM282 108h1v1h-1zM283 86h1v1h-1zM283 95h1v1h-1zM283 98h1v2h-1zM283 102h1v2h-1zM284 87h1v1h-1zM284 89h1v3h-1zM284 95h1v1h-1zM284 97h1v1h-1zM284 100h1v1h-1zM284 102h1v1h-1zM284 106h1v5h-1zM284 112h1v1h-1zM284 115h1v1h-1zM285 101h1v1h-1zM285 114h1v1h-1zM285 121h1v1h-1zM286 87h1v1h-1zM286 92h1v1h-1zM286 94h1v2h-1zM286 97h1v1h-1zM286 100h1v2h-1zM286 104h1v1h-1zM287 88h1v2h-1zM287 91h1v1h-1zM287 103h1v2h-1zM287 117h1v1h-1zM288 89h1v1h-1zM288 91h1v1h-1zM288 93h1v1h-1zM288 104h1v1h-1zM288 107h1v2h-1zM288 111h1v2h-1zM288 114h1v1h-1zM289 90h1v1h-1zM289 92h1v1h-1zM289 94h1v1h-1zM289 100h1v2h-1zM289 103h1v1h-1zM289 105h1v1h-1zM289 109h1v1h-1zM289 112h1v1h-1zM290 105h1v1h-1zM290 110h1v1h-1zM290 124h1v1h-1zM291 91h1v1h-1zM291 97h1v1h-1zM291 103h1v1h-1zM291 106h1v1h-1zM291 110h1v1h-1zM291 112h1v1h-1zM291 116h1v1h-1zM292 116h1v1h-1zM292 120h1v1h-1zM293 106h1v1h-1zM293 113h1v1h-1zM294 97h1v1h-1zM294 105h1v1h-1zM294 110h1v1h-1zM294 112h1v1h-1zM294 114h1v1h-1zM295 99h1v1h-1zM295 105h1v1h-1zM296 94h1v1h-1zM296 99h1v1h-1zM297 98h1v1h-1zM297 109h1v1h-1zM299 105h1v1h-1zM299 109h1v1h-1zM299 112h1v1h-1zM300 101h1v1h-1zM300 104h1v1h-1zM300 112h1v1h-1zM301 111h1v1h-1zM302 117h1v1h-1zM302 122h1v1h-1zM303 104h1v1h-1zM304 117h1v1h-1zM304 123h1v1h-1zM304 137h1v1h-1zM305 114h1v1h-1zM306 103h1v1h-1zM306 109h1v1h-1zM306 115h1v1h-1zM306 119h1v1h-1zM309 105h1v1h-1zM310 125h1v1h-1zM311 114h1v1h-1zM312 107h1v1h-1zM312 110h1v1h-1zM312 120h1v1h-1zM313 124h1v1h-1zM314 113h1v1h-1zM314 119h1v1h-1zM314 123h1v1h-1zM314 127h1v1h-1zM315 108h1v1h-1zM315 113h1v1h-1zM315 115h1v1h-1zM316 112h1v1h-1zM316 130h1v1h-1zM317 118h1v1h-1zM317 128h1v1h-1zM318 117h1v1h-1zM318 123h1v1h-1zM319 112h1v1h-1zM319 126h1v1h-1zM319 136h1v1h-1zM320 127h1v2h-1zM321 122h1v1h-1zM321 126h1v1h-1zM321 130h1v1h-1zM321 136h1v1h-1zM323 123h1v1h-1z" fill="#aa0f32" fill-opacity="0.6"/>
<path d="M211 62h1v1h-1zM211 75h1v1h-1zM211 80h1v1h-1zM212 63h1v1h-1zM212 69h1v1h-1zM213 69h1v1h-1zM213 72h1v1h-1zM213 82h1v1h-1zM214 57h1v1h-1zM214 64h1v2h-1zM214 74h1v1h-1zM214 76h1v1h-1zM214 81h1v1h-1zM215 70h1v1h-1zM215 73h1v1h-1zM216 63h1v1h-1zM216 65h1v1h-1zM216 67h1v1h-1zM216 74h1v1h-1zM216 76h1v1h-1zM217 68h1v1h-1zM217 73h1v1h-1zM217 78h1v1h-1zM217 87h1v1h-1zM218 77h1v1h-1zM219 80h1v1h-1zM219 84h1v1h-1zM219 90h1v1h-1zM220 79h1v1h-1zM220 84h1v1h-1zM220 88h1v1h-1zM221 82h1v1h-1zM222 72h1v1h-1zM222 79h1v1h-1zM222 82h1v1h-1zM222 84h1v1h-1zM222 88h1v2h-1zM223 80h1v1h-1zM223 95h1v1h-1zM224 75h1v1h-1zM224 82h1v1h-1zM224 87h1v2h-1zM225 75h1v1h-1zM225 77h1v2h-1zM225 84h1v1h-1zM225 96h1v1h-1zM226 79h1v1h-1zM227 57h1v1h-1zM227 60h1v1h-1zM227 68h1v2h-1zM227 80h1v1h-1zM227 90h1v2h-1zM227 94h1v1h-1zM228 84h1v1h-1zM228 95h1v1h-1zM229 87h1v1h-1zM229 92h1v1h-1zM230 80h1v1h-1zM230 84h1v1h-1zM232 83h1v1h-1zM232 86h1v1h-1zM232 88h1v1h-1zM234 83h1v1h-1zM234 85h1v1h-1zM234 88h1v1h-1zM234 90h1v1h-1zM234 100h1v1h-1zM235 86h1v1h-1zM235 90h1v1h-1zM235 92h1v1h-1zM236 85h1v1h-1zM236 93h1v1h-1zM236 99h1v1h-1zM237 83h1v1h-1zM237 85h1v2h-1zM237 88h1v1h-1zM237 102h1v1h-1zM238 84h1v1h-1zM238 88h1v1h-1zM239 108h1v1h-1zM240 63h1v1h-1zM240 72h1v1h-1zM240 87h1v1h-1zM240 96h1v1h-1zM241 69h1v1h-1zM241 88h1v1h-1zM241 90h1v1h-1zM242 90h1v1h-1zM244 56h1v1h-1zM244 85h1v1h-1zM244 89h1v1h-1zM245 56h1v1h-1zM245 79h1v1h-1zM245 81h1v1h-1zM245 88h1v1h-1zM245 90h1v1h-1zM246 100h1v1h-1zM247 86h1v1h-1zM247 88h1v4h-1zM249 92h1v1h-1zM250 61h1v1h-1zM250 76h1v1h-1zM250 86h1v1h-1zM251 76h1v1h-1zM251 88h1v2h-1zM252 63h1v1h-1zM252 87h1v1h-1zM253 81h1v1h-1zM253 96h1v1h-1zM254 74h1v1h-1zM254 80h1v1h-1zM254 94h1v1h-1zM254 96h1v1h-1zM254 98h1v1h-1zM255 65h1v1h-1zM255 74h1v1h-1zM255 79h1v1h-1zM255 81h1v1h-1zM255 87h1v1h-1zM255 89h1v1h-1zM256 65h1v1h-1zM256 67h1v1h-1zM256 79h1v1h-1zM256 89h1v2h-1zM256 97h1v1h-1zM257 76h1v1h-1zM258 66h1v1h-1zM259 67h1v2h-1zM259 70h1v1h-1zM259 77h1v1h-1zM259 90h1v1h-1zM259 93h1v1h-1zM259 97h1v1h-1zM260 89h1v3h-1zM260 95h1v2h-1zM261 86h1v1h-1zM261 91h1v1h-1zM261 94h1v1h-1zM262 74h1v1h-1zM262 78h1v1h-1zM262 81h1v1h-1zM262 88h1v1h-1zM262 97h1v1h-1zM263 71h1v1h-1zM263 77h1v1h-1zM263 83h1v1h-1zM263 85h1v1h-1zM263 90h1v1h-1zM263 93h1v1h-1zM263 98h1v2h-1zM263 102h1v1h-1zM264 82h1v1h-1zM264 91h1v1h-1zM264 94h1v2h-1zM264 97h1v2h-1zM265 77h1v1h-1zM265 88h1v1h-1zM265 91h1v2h-1zM265 99h1v1h-1zM267 71h1v1h-1zM267 73h1v1h-1zM267 84h1v1h-1zM267 86h1v1h-1zM267 92h1v1h-1zM267 97h1v1h-1zM267 105h1v1h-1zM268 82h1v1h-1zM270 79h1v1h-1zM270 88h1v2h-1zM270 98h1v2h-1zM270 101h1v2h-1zM271 79h1v1h-1zM271 87h1v1h-1zM271 93h1v1h-1zM271 95h1v1h-1zM271 101h1v1h-1zM273 78h1v1h-1zM273 84h1v2h-1zM273 88h1v1h-1zM273 90h1v2h-1zM276 85h1v1h-1zM276 88h1v1h-1zM276 94h1v1h-1zM277 82h1v2h-1zM277 85h1v1h-1zM277 87h1v1h-1zM277 91h1v1h-1zM277 97h1v1h-1zM277 100h1v1h-1zM277 104h1v1h-1zM279 98h1v1h-1zM280 84h1v2h-1zM280 87h1v2h-1zM280 91h1v1h-1zM280 98h1v1h-1zM280 102h1v1h-1zM281 85h1v1h-1zM281 87h1v1h-1zM281 93h1v1h-1zM281 103h1v1h-1zM282 92h1v2h-1zM282 95h1v1h-1zM282 107h1v1h-1zM283 88h1v1h-1zM283 90h1v2h-1zM283 93h1v1h-1zM283 97h1v1h-1zM283 104h1v1h-1zM283 108h1v1h-1zM284 86h1v1h-1zM284 104h1v1h-1zM284 111h1v1h-1zM284 114h1v1h-1zM286 91h1v1h-1zM286 103h1v1h-1zM286 105h1v2h-1zM287 95h1v3h-1zM287 99h1v1h-1zM287 108h1v1h-1zM288 98h1v1h-1zM288 101h1v1h-1zM288 109h1v1h-1zM289 93h1v1h-1zM289 95h1v1h-1zM290 97h1v1h-1zM291 93h1v1h-1zM291 95h1v2h-1zM291 98h1v1h-1zM291 102h1v1h-1zM294 104h1v1h-1zM295 112h1v1h-1zM299 110h1v1h-1zM310 107h1v1h-1zM322 129h1v1h-1z" fill="#aa0f32" fill-opacity="0.7"/>
<path d="M211 57h1v1h-1zM211 61h1v1h-1zM211 65h1v1h-1zM212 61h1v1h-1zM213 70h1v2h-1zM214 56h1v1h-1zM214 58h1v1h-1zM214 66h1v2h-1zM214 73h1v1h-1zM214 84h1v1h-1zM215 78h1v1h-1zM216 60h1v2h-1zM216 66h1v1h-1zM216 82h1v1h-1zM217 76h1v1h-1zM219 76h1v1h-1zM219 83h1v1h-1zM219 85h1v1h-1zM221 75h1v1h-1zM221 81h1v1h-1zM222 77h1v1h-1zM222 92h1v1h-1zM223 90h1v2h-1zM224 74h1v1h-1zM224 80h1v2h-1zM225 80h1v3h-1zM225 90h1v1h-1zM226 77h1v1h-1zM227 71h1v1h-1zM229 81h1v1h-1zM229 84h1v1h-1zM229 89h1v2h-1zM231 82h1v1h-1zM232 81h1v1h-1zM233 80h1v1h-1zM233 88h1v1h-1zM234 80h1v1h-1zM234 89h1v1h-1zM235 78h1v1h-1zM235 85h1v1h-1zM237 84h1v1h-1zM238 83h1v1h-1zM238 86h1v2h-1zM239 88h1v1h-1zM240 60h1v1h-1zM240 94h1v1h-1zM241 80h1v1h-1zM242 58h1v1h-1zM242 85h1v2h-1zM243 77h1v1h-1zM243 82h1v1h-1zM243 86h1v1h-1zM244 55h1v1h-1zM244 87h1v1h-1zM245 82h1v1h-1zM246 85h1v1h-1zM246 87h1v1h-1zM246 89h1v1h-1zM247 84h1v1h-1zM247 95h1v1h-1zM249 77h1v1h-1zM249 80h1v1h-1zM249 103h1v1h-1zM250 90h1v1h-1zM251 62h1v1h-1zM251 69h1v1h-1zM251 81h1v1h-1zM251 87h1v1h-1zM251 90h1v2h-1zM252 78h1v1h-1zM252 86h1v1h-1zM252 89h1v1h-1zM252 95h1v1h-1zM253 69h1v1h-1zM253 75h1v1h-1zM253 83h1v1h-1zM253 87h1v4h-1zM253 110h1v1h-1zM254 64h1v2h-1zM254 87h1v1h-1zM254 92h1v1h-1zM255 67h1v1h-1zM255 70h1v2h-1zM255 92h1v1h-1zM255 96h1v1h-1zM255 98h1v1h-1zM256 85h1v2h-1zM256 91h1v1h-1zM256 95h1v1h-1zM256 102h1v1h-1zM257 89h1v1h-1zM258 81h1v1h-1zM258 89h1v1h-1zM258 92h1v1h-1zM259 71h1v1h-1zM259 74h1v1h-1zM259 76h1v1h-1zM259 79h1v1h-1zM260 75h1v1h-1zM260 77h1v1h-1zM260 86h1v1h-1zM260 94h1v1h-1zM261 70h1v1h-1zM261 81h1v1h-1zM261 97h1v1h-1zM262 79h1v2h-1zM262 90h1v2h-1zM263 79h1v1h-1zM263 81h1v1h-1zM263 92h1v1h-1zM264 73h1v1h-1zM264 77h1v1h-1zM264 92h1v1h-1zM264 100h1v1h-1zM265 76h1v1h-1zM265 85h1v3h-1zM265 96h1v1h-1zM265 98h1v1h-1zM267 80h1v1h-1zM267 83h1v1h-1zM267 85h1v1h-1zM267 93h1v1h-1zM267 98h1v1h-1zM270 85h1v2h-1zM270 93h1v1h-1zM270 103h1v1h-1zM271 81h1v1h-1zM271 91h1v1h-1zM271 98h1v1h-1zM273 80h1v1h-1zM273 86h1v1h-1zM275 79h1v2h-1zM275 83h1v1h-1zM275 95h1v2h-1zM275 100h1v1h-1zM277 90h1v1h-1zM277 102h1v1h-1zM277 106h1v1h-1zM280 95h1v1h-1zM280 99h1v1h-1zM281 95h1v1h-1zM282 90h1v1h-1zM283 100h1v1h-1zM283 107h1v1h-1zM283 109h1v1h-1zM284 98h1v1h-1zM287 102h1v1h-1zM288 97h1v1h-1zM288 102h1v1h-1zM288 106h1v1h-1zM291 92h1v1h-1zM302 115h1v1h-1zM303 115h1v1h-1zM322 123h1v1h-1z" fill="#aa0f32" fill-opacity="0.8"/>
<path d="M211 60h1v1h-1zM211 63h1v1h-1zM211 67h1v1h-1zM212 60h1v1h-1zM213 65h1v1h-1zM213 67h1v1h-1zM214 70h1v1h-1zM215 72h1v1h-1zM215 74h1v1h-1zM216 58h1v1h-1zM216 64h1v1h-1zM217 57h1v1h-1zM217 61h1v1h-1zM218 72h1v2h-1zM219 73h1v3h-1zM220 73h1v1h-1zM220 75h1v1h-1zM220 80h1v1h-1zM221 73h1v1h-1zM221 77h1v1h-1zM223 75h1v2h-1zM224 77h1v2h-1zM225 71h1v1h-1zM225 76h1v1h-1zM225 79h1v1h-1zM225 94h1v1h-1zM226 78h1v1h-1zM226 80h1v1h-1zM226 92h1v1h-1zM227 55h1v1h-1zM227 59h1v1h-1zM227 64h1v1h-1zM227 84h1v1h-1zM228 78h1v2h-1zM229 73h1v1h-1zM229 79h1v2h-1zM230 72h1v1h-1zM230 81h1v1h-1zM231 67h1v1h-1zM231 80h1v1h-1zM232 79h1v2h-1zM232 82h1v1h-1zM232 89h1v1h-1zM233 77h1v1h-1zM233 81h1v3h-1zM233 92h1v1h-1zM234 76h1v2h-1zM234 81h1v1h-1zM235 81h1v1h-1zM235 84h1v1h-1zM235 88h1v1h-1zM236 75h1v2h-1zM236 78h1v1h-1zM236 80h1v5h-1zM237 77h1v1h-1zM237 80h1v2h-1zM237 90h1v1h-1zM238 72h1v1h-1zM238 82h1v1h-1zM239 68h1v1h-1zM239 74h1v1h-1zM239 78h1v2h-1zM239 82h1v1h-1zM239 84h1v2h-1zM239 89h1v1h-1zM239 91h1v1h-1zM240 55h1v1h-1zM241 64h1v1h-1zM241 71h1v1h-1zM241 75h1v2h-1zM241 79h1v1h-1zM241 81h1v4h-1zM241 86h1v1h-1zM242 72h1v1h-1zM242 79h1v1h-1zM242 83h1v1h-1zM243 57h1v2h-1zM243 78h1v1h-1zM243 80h1v1h-1zM243 84h1v2h-1zM244 57h1v1h-1zM244 76h1v1h-1zM244 78h1v1h-1zM244 81h1v1h-1zM244 83h1v2h-1zM244 86h1v1h-1zM244 88h1v1h-1zM245 57h1v1h-1zM245 60h1v1h-1zM245 65h1v1h-1zM245 67h1v1h-1zM245 72h1v1h-1zM245 83h1v2h-1zM245 86h1v1h-1zM246 69h1v2h-1zM246 74h1v2h-1zM246 82h1v2h-1zM247 59h1v1h-1zM247 63h1v1h-1zM247 67h1v1h-1zM247 72h1v1h-1zM247 75h1v1h-1zM247 79h1v2h-1zM247 85h1v1h-1zM249 60h1v2h-1zM249 69h1v1h-1zM249 73h1v1h-1zM249 76h1v1h-1zM249 82h1v2h-1zM249 85h1v1h-1zM249 87h1v2h-1zM250 62h1v1h-1zM250 64h1v1h-1zM250 66h1v1h-1zM250 77h1v1h-1zM250 79h1v2h-1zM250 83h1v1h-1zM250 85h1v1h-1zM251 65h1v1h-1zM251 73h1v1h-1zM251 75h1v1h-1zM251 77h1v1h-1zM251 79h1v2h-1zM251 82h1v2h-1zM251 85h1v2h-1zM252 64h1v1h-1zM252 69h1v2h-1zM252 74h1v1h-1zM252 77h1v1h-1zM252 79h1v7h-1zM252 88h1v1h-1zM252 90h1v1h-1zM253 63h1v2h-1zM253 70h1v2h-1zM253 76h1v1h-1zM253 79h1v1h-1zM253 82h1v1h-1zM253 85h1v2h-1zM253 91h1v1h-1zM254 70h1v4h-1zM254 77h1v1h-1zM254 81h1v1h-1zM254 84h1v3h-1zM254 88h1v4h-1zM254 93h1v1h-1zM255 68h1v2h-1zM255 72h1v1h-1zM255 75h1v1h-1zM255 82h1v2h-1zM255 85h1v2h-1zM255 88h1v1h-1zM255 90h1v1h-1zM256 66h1v1h-1zM256 69h1v1h-1zM256 72h1v4h-1zM256 77h1v2h-1zM256 80h1v3h-1zM256 84h1v1h-1zM256 88h1v1h-1zM256 92h1v1h-1zM256 94h1v1h-1zM258 67h1v4h-1zM258 73h1v2h-1zM258 82h1v1h-1zM258 85h1v3h-1zM258 96h1v1h-1zM258 98h1v1h-1zM259 69h1v1h-1zM259 72h1v2h-1zM259 80h1v1h-1zM259 82h1v1h-1zM259 84h1v3h-1zM259 89h1v1h-1zM260 70h1v4h-1zM260 78h1v2h-1zM260 87h1v1h-1zM260 92h1v1h-1zM261 71h1v3h-1zM261 76h1v4h-1zM261 84h1v1h-1zM261 87h1v2h-1zM261 90h1v1h-1zM261 92h1v2h-1zM261 95h1v1h-1zM262 71h1v2h-1zM262 76h1v1h-1zM262 82h1v1h-1zM262 85h1v2h-1zM262 89h1v1h-1zM262 94h1v1h-1zM262 96h1v1h-1zM263 72h1v3h-1zM263 76h1v1h-1zM263 80h1v1h-1zM263 82h1v1h-1zM263 84h1v1h-1zM263 86h1v4h-1zM264 74h1v1h-1zM264 78h1v2h-1zM264 83h1v1h-1zM264 87h1v3h-1zM264 96h1v1h-1zM265 74h1v2h-1zM265 80h1v1h-1zM265 82h1v3h-1zM265 89h1v2h-1zM265 95h1v1h-1zM267 76h1v1h-1zM267 79h1v1h-1zM267 82h1v1h-1zM267 87h1v4h-1zM267 94h1v2h-1zM270 78h1v1h-1zM270 82h1v1h-1zM270 87h1v1h-1zM270 91h1v2h-1zM270 95h1v1h-1zM271 77h1v1h-1zM271 80h1v1h-1zM271 89h1v1h-1zM271 94h1v1h-1zM271 100h1v1h-1zM273 81h1v1h-1zM273 83h1v1h-1zM273 94h1v2h-1zM273 98h1v1h-1zM275 81h1v1h-1zM275 84h1v1h-1zM275 91h1v1h-1zM275 94h1v1h-1zM277 84h1v1h-1zM277 86h1v1h-1zM277 89h1v1h-1zM277 96h1v1h-1zM280 90h1v1h-1zM280 94h1v1h-1zM281 90h1v1h-1zM281 96h1v1h-1zM282 94h1v1h-1zM282 96h1v1h-1zM282 103h1v1h-1zM283 92h1v1h-1zM283 101h1v1h-1zM284 88h1v1h-1zM284 101h1v1h-1zM286 98h1v1h-1zM286 102h1v1h-1zM286 107h1v1h-1zM288 96h1v1h-1z" fill="#aa0f32" fill-opacity="0.9"/>
<path d="M211 55h1v2h-1zM211 58h1v2h-1zM212 55h1v1h-1zM213 55h1v10h-1zM213 66h1v1h-1zM213 68h1v1h-1zM214 55h1v1h-1zM215 55h1v15h-1zM216 55h1v1h-1zM217 55h1v1h-1zM218 55h1v17h-1zM219 55h1v18h-1zM220 55h1v18h-1zM221 55h1v18h-1zM221 74h1v1h-1zM221 76h1v1h-1zM222 55h1v17h-1zM222 73h1v3h-1zM223 55h1v20h-1zM223 77h1v1h-1zM224 55h1v19h-1zM224 76h1v1h-1zM225 55h1v16h-1zM225 72h1v3h-1zM226 55h1v22h-1zM228 55h1v23h-1zM229 55h1v18h-1zM229 74h1v5h-1zM230 55h1v17h-1zM230 73h1v7h-1zM231 55h1v12h-1zM231 68h1v11h-1zM232 55h1v24h-1zM233 55h1v22h-1zM233 78h1v2h-1zM234 55h1v21h-1zM234 78h1v2h-1zM235 55h1v23h-1zM235 79h1v2h-1zM235 82h1v1h-1zM236 55h1v20h-1zM236 77h1v1h-1zM236 79h1v1h-1zM237 55h1v22h-1zM237 78h1v2h-1zM237 82h1v1h-1zM238 55h1v17h-1zM238 73h1v9h-1zM239 55h1v13h-1zM239 69h1v5h-1zM239 75h1v3h-1zM239 80h1v2h-1zM239 83h1v1h-1zM241 55h1v9h-1zM241 65h1v4h-1zM241 70h1v1h-1zM241 72h1v3h-1zM241 77h1v2h-1zM241 85h1v1h-1zM242 55h1v3h-1zM242 59h1v13h-1zM242 73h1v6h-1zM242 80h1v2h-1zM242 84h1v1h-1zM243 56h1v1h-1zM243 59h1v18h-1zM243 79h1v1h-1zM243 81h1v1h-1zM243 83h1v1h-1zM244 58h1v18h-1zM244 77h1v1h-1zM244 79h1v2h-1zM244 82h1v1h-1zM245 58h1v2h-1zM245 61h1v4h-1zM245 66h1v1h-1zM245 68h1v4h-1zM245 73h1v6h-1zM245 80h1v1h-1zM245 85h1v1h-1zM245 87h1v1h-1zM246 59h1v10h-1zM246 71h1v3h-1zM246 76h1v6h-1zM246 86h1v1h-1zM247 60h1v3h-1zM247 64h1v3h-1zM247 68h1v4h-1zM247 73h1v2h-1zM247 76h1v3h-1zM247 81h1v3h-1zM247 87h1v1h-1zM249 62h1v7h-1zM249 70h1v3h-1zM249 74h1v2h-1zM249 79h1v1h-1zM249 81h1v1h-1zM249 84h1v1h-1zM249 86h1v1h-1zM250 63h1v1h-1zM250 65h1v1h-1zM250 67h1v9h-1zM250 78h1v1h-1zM250 81h1v2h-1zM250 84h1v1h-1zM250 87h1v2h-1zM251 63h1v2h-1zM251 66h1v3h-1zM251 70h1v3h-1zM251 74h1v1h-1zM251 78h1v1h-1zM251 84h1v1h-1zM252 66h1v3h-1zM252 71h1v3h-1zM252 75h1v1h-1zM253 65h1v4h-1zM253 72h1v3h-1zM253 77h1v2h-1zM253 80h1v1h-1zM253 84h1v1h-1zM254 66h1v4h-1zM254 75h1v1h-1zM254 78h1v1h-1zM254 83h1v1h-1zM255 66h1v1h-1zM255 73h1v1h-1zM255 76h1v2h-1zM255 80h1v1h-1zM255 84h1v1h-1zM256 68h1v1h-1zM256 70h1v2h-1zM256 83h1v1h-1zM256 87h1v1h-1zM258 71h1v2h-1zM258 75h1v6h-1zM258 83h1v2h-1zM258 91h1v1h-1zM258 95h1v1h-1zM259 75h1v1h-1zM259 78h1v1h-1zM259 81h1v1h-1zM259 83h1v1h-1zM260 69h1v1h-1zM260 74h1v1h-1zM260 76h1v1h-1zM260 80h1v4h-1zM260 88h1v1h-1zM261 74h1v2h-1zM261 80h1v1h-1zM261 83h1v1h-1zM261 85h1v1h-1zM261 89h1v1h-1zM262 73h1v1h-1zM262 75h1v1h-1zM262 83h1v2h-1zM263 75h1v1h-1zM264 75h1v2h-1zM264 81h1v1h-1zM264 84h1v2h-1zM264 93h1v1h-1zM264 99h1v1h-1zM265 79h1v1h-1zM267 78h1v1h-1zM270 80h1v2h-1zM271 83h1v1h-1zM271 86h1v1h-1zM277 95h1v1h-1zM280 86h1v1h-1z" fill="#aa0f32" fill-opacity="1"/>
<text x="209.5" y="158.6" class="t12" text-anchor="middle" fill="#444">0</text>
<text x="248.2" y="158.6" class="t12" text-anchor="middle" fill="#444">20</text>
<line x1="248.2" y1="142" x2="248.2" y2="140" stroke="#444" stroke-width="1"/>
<text x="286.9" y="158.6" class="t12" text-anchor="middle" fill="#444">40</text>
<line x1="286.9" y1="142" x2="286.9" y2="140" stroke="#444" stroke-width="1"/>
<text x="325.6" y="158.6" class="t12" text-anchor="middle" fill="#444">60</text>
<text x="205.6" y="146.0" class="t12" text-anchor="end" fill="#444">160</text>
<line x1="209.5" y1="141.4" x2="211.5" y2="141.4" stroke="#444" stroke-width="1"/>
<text x="205.6" y="120.6" class="t12" text-anchor="end" fill="#444">180</text>
<line x1="209.5" y1="116.0" x2="211.5" y2="116.0" stroke="#444" stroke-width="1"/>
<text x="205.6" y="95.2" class="t12" text-anchor="end" fill="#444">200</text>
<line x1="209.5" y1="90.6" x2="211.5" y2="90.6" stroke="#444" stroke-width="1"/>
<text x="205.6" y="69.8" class="t12" text-anchor="end" fill="#444">220</text>
<line x1="209.5" y1="65.2" x2="211.5" y2="65.2" stroke="#444" stroke-width="1"/>
<text class="lab" transform="translate(16.9,117.3) rotate(-90)" text-anchor="middle" fill="#5a7eff">Retraction speed (µm/s)</text>
<text class="lab" transform="translate(380.8,122) rotate(-90)" text-anchor="middle" fill="#d06862">Cell density (a.u.)</text>
<text class="lab" x="189" y="275.6" text-anchor="middle" fill="#303030">Branch width (µm)</text>
<text class="lab" transform="translate(179.4,103) rotate(-90)" text-anchor="middle" fill="#222" style="font-size:19.4px">Density (a.u.)</text>
<text class="lab" x="267.8" y="178.3" text-anchor="middle" fill="#2e2e2e">Speed (µm/s)</text>
<text class="big" x="47.5" y="34.2" fill="#111">A</text>
<text class="big" x="388.9" y="34" fill="#111" style="font-size:30.5px">B</text>
<text class="lab" x="134" y="226" fill="#222">w<tspan class="sub" dy="6">c</tspan></text>
<defs><linearGradient id="gs" x1="0" y1="62" x2="0" y2="219" gradientUnits="userSpaceOnUse"><stop offset="0" stop-color="#c2e3c2"/><stop offset="0.45" stop-color="#92ce92"/><stop offset="0.75" stop-color="#4aa84a"/><stop offset="1" stop-color="#008400"/></linearGradient></defs>
<rect x="412.5" y="17.5" width="331.5" height="223" fill="#fff" stroke="#777" stroke-width="1"/>
<path d="M432 219 C447 216 452 200 454 175 C456 140 455 100 458 82 C461 66 465 62 467.4 62 C470 62 474 66 477 80 C481 100 483 140 484 175 C486 205 492 218 503 219 L503 226 L432 226 Z" fill="url(#gs)"/>
<path d="M530.0 218.8C531.5 218.7 535.3 218.8 538.8 218.2C542.3 217.6 547.0 216.4 551.0 215.0C555.0 213.6 559.5 211.7 563.0 210.0C566.5 208.3 569.4 206.7 572.0 205.0C574.6 203.3 576.0 202.5 578.6 200.0C581.2 197.5 585.1 193.3 587.8 190.0C590.5 186.7 592.9 183.3 594.7 180.0C596.6 176.7 597.8 173.3 598.9 170.0C600.0 166.7 600.5 165.0 601.1 160.0C601.7 155.0 602.1 146.7 602.5 140.0C602.9 133.3 603.2 126.7 603.7 120.0C604.2 113.3 605.0 105.0 605.5 100.0C606.0 95.0 606.4 92.5 606.9 90.0C607.4 87.5 607.8 86.7 608.3 85.0C608.8 83.3 609.4 81.7 610.1 80.0C610.8 78.3 611.5 76.7 612.5 75.0C613.5 73.3 614.4 71.7 616.2 70.0C618.0 68.3 620.5 66.3 623.4 65.0C626.3 63.7 630.0 62.2 633.7 62.2C637.4 62.2 642.4 63.7 645.8 65.0C649.2 66.3 651.8 68.3 654.3 70.0C656.8 71.7 659.2 73.3 660.9 75.0C662.6 76.7 663.4 78.3 664.5 80.0C665.6 81.7 666.6 83.3 667.6 85.0C668.6 86.7 669.7 87.5 670.5 90.0C671.3 92.5 672.0 96.7 672.5 100.0C673.0 103.3 673.4 105.0 673.7 110.0C674.0 115.0 674.4 123.3 674.5 130.0C674.6 136.7 674.5 144.7 674.6 150.0C674.7 155.3 674.6 158.7 675.0 162.0C675.4 165.3 675.9 167.0 676.8 170.0C677.7 173.0 678.8 176.7 680.5 180.0C682.2 183.3 684.4 186.7 687.0 190.0C689.6 193.3 693.5 197.5 695.9 200.0C698.3 202.5 699.2 203.3 701.4 205.0C703.6 206.7 706.1 208.3 709.0 210.0C711.9 211.7 715.7 213.7 719.0 215.0C722.3 216.3 726.0 217.4 729.0 218.0C732.0 218.6 735.7 218.7 737.0 218.8L737 226L530 226Z" fill="#008400"/>
<rect x="412" y="218.5" width="333" height="23" fill="#008400"/>
<line x1="469.2" y1="83.4" x2="469.2" y2="103" stroke="#000" stroke-width="2"/><polygon points="464.4,101.4 474.0,101.4 469.2,110" fill="#000"/>
<line x1="461.8" y1="106.4" x2="461.8" y2="126" stroke="#000" stroke-width="2"/><polygon points="457.0,124.4 466.6,124.4 461.8,133" fill="#000"/>
<line x1="476.3" y1="106.4" x2="476.3" y2="126" stroke="#000" stroke-width="2"/><polygon points="471.5,124.4 481.1,124.4 476.3,133" fill="#000"/>
<line x1="469.2" y1="130" x2="469.2" y2="150.7" stroke="#000" stroke-width="2"/><polygon points="464.4,149.1 474.0,149.1 469.2,157.7" fill="#000"/>
<polyline points="614.4,105.4 650.7,105.4" fill="none" stroke="#000" stroke-width="2" stroke-linejoin="miter" stroke-linecap="square"/>
<polyline points="614.4,105.4 642.0,126.0 647.5,132.0" fill="none" stroke="#000" stroke-width="2" stroke-linejoin="miter" stroke-linecap="square"/>
<polyline points="650.7,105.4 644.3,117.9 638.6,129.1 642.9,134.1 647.5,132.0" fill="none" stroke="#000" stroke-width="2" stroke-linejoin="miter" stroke-linecap="square"/>
<polyline points="637.2,93.0 654.2,99.4 659.2,113.6 652.1,119.3 658.5,122.9 654.2,151.2 647.1,143.3 647.8,124.8 652.1,119.3" fill="none" stroke="#000" stroke-width="2" stroke-linejoin="miter" stroke-linecap="square"/>
<polyline points="637.2,93.0 637.9,112.9 652.1,119.3" fill="none" stroke="#000" stroke-width="2" stroke-linejoin="miter" stroke-linecap="square"/>
<polyline points="616.5,124.4 630.5,124.4 621.5,155.4 642.9,137.6 649.3,132.7" fill="none" stroke="#000" stroke-width="2" stroke-linejoin="miter" stroke-linecap="square"/>
<polyline points="642.9,137.0 644.3,146.9 655.7,159.3 641.4,155.9" fill="none" stroke="#000" stroke-width="2" stroke-linejoin="miter" stroke-linecap="square"/>
<polygon points="634.3,154 642,149.2 642.2,159.6" fill="#000"/>
<path d="M629.9 58.4 C629.5 47 624.5 43.7 620.6 43.7 C615.5 43.7 608.8 48.5 611.2 55.8" fill="none" stroke="#000" stroke-width="2"/><polygon points="614.0,64.3 606.8,57.2 615.6,54.4" fill="#000"/>
<path d="M641.4 58.4 C641.8 47 646.8 43.7 650.7 43.7 C656 43.7 661.8 48.5 660.3 55.8" fill="none" stroke="#000" stroke-width="2"/><polygon points="658.5,64.6 655.8,54.9 664.8,56.7" fill="#000"/>
<path d="M607.4 81.9 C603 74.5 597 72.5 592 73 C585 74 582 80 584 88 C586 95 590 100.5 594 105" fill="none" stroke="#000" stroke-width="2"/><polygon points="600.0,111.7 590.6,108.1 597.4,101.9" fill="#000"/>
<path d="M598.5 128.7 C595 126 590 125.5 587 126.5 C582 128 580 134 581.5 140 C583 145 587 148 591.5 150.5" fill="none" stroke="#000" stroke-width="2"/><polygon points="599.4,154.9 589.3,154.5 593.7,146.5" fill="#000"/>
<path d="M668 79.2 C671 74 676 71.2 680 71.2 C687 71.2 692 76 692 83 C692 91 686 98.5 680.8 104.5" fill="none" stroke="#000" stroke-width="2"/><polygon points="674.9,111.3 677.3,101.5 684.3,107.5" fill="#000"/>
<path d="M676.9 129.6 C680 127 684 126 687 126 C692 126.5 695 131 694.7 136 C694.4 141 690 146 684.8 150.5" fill="none" stroke="#000" stroke-width="2"/><polygon points="678.0,156.4 681.8,147.0 687.8,154.0" fill="#000"/>
<text class="wl" x="445.6" y="34.6" fill="#333">w&lt;w<tspan class="sub" dx="1.5" dy="6.6">c</tspan></text>
<text class="wl" x="614.2" y="35.5" fill="#333">w&gt;w<tspan class="sub" dx="1.5" dy="6.1">c</tspan></text>
</svg>
</body></html>
